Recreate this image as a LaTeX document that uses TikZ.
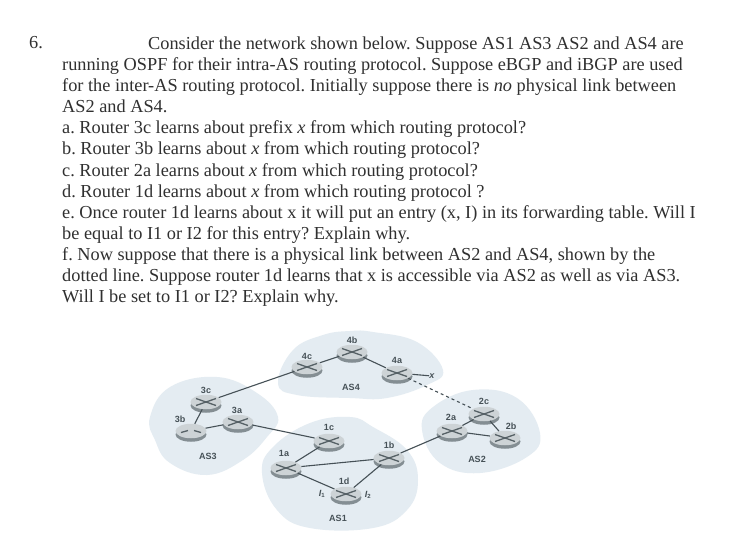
\documentclass[tikz,border=0pt]{standalone}
\usepackage{fontspec}
\setmainfont{Liberation Serif}
\newfontfamily\labelfont{Liberation Sans}
\usetikzlibrary{shapes.geometric, shadows, calc}
\definecolor{regionblue}{HTML}{E4ECF2}
\definecolor{routertop}{HTML}{CDD3D6}
\definecolor{routerside}{HTML}{848E93}
\definecolor{crossgrey}{HTML}{566166}
\definecolor{linkgrey}{HTML}{465157}
\definecolor{textgrey}{HTML}{303030}
\tikzset{
	router/.style={ellipse, minimum width=31pt, minimum height=14.5pt, inner sep=0pt, fill=routertop,
		copy shadow={shadow xshift=0pt, shadow yshift=-3.5pt, fill=routerside, draw=none}},
	crossed/.style={path picture={
		\draw[crossgrey, line width=1.3pt] ($(path picture bounding box.center)+(-10,-3.5)$) -- ($(path picture bounding box.center)+(10,3.5)$);
		\draw[crossgrey, line width=1.3pt] ($(path picture bounding box.center)+(-10,3.5)$) -- ($(path picture bounding box.center)+(10,-3.5)$);}},
	dashes/.style={path picture={
		\draw[crossgrey, line width=1.3pt] ($(path picture bounding box.center)+(-10,1.5)$) -- ($(path picture bounding box.center)+(-3,-0.5)$);
		\draw[crossgrey, line width=1.3pt] ($(path picture bounding box.center)+(3,-0.5)$) -- ($(path picture bounding box.center)+(10,1.5)$);}},
	rlabel/.style={font=\labelfont\bfseries\fontsize{9}{10}\selectfont, text=linkgrey, inner sep=0pt},
	link/.style={draw=linkgrey, line width=1.1pt}
}
\begin{document}
\begin{tikzpicture}[x=1pt, y=-1pt]
	\useasboundingbox[fill=white] (0,0) rectangle (734,539);
	% question text
	\node[anchor=base west, text=textgrey, inner sep=0pt, font=\fontsize{18.3}{20}\selectfont] (num) at (29,48) {6.};
	\node[anchor=north west, text=textgrey, inner sep=0pt, align=left, font=\frenchspacing\fontsize{18.3}{21.1}\selectfont] (question) at (62,36.5) {%
		\hspace*{86pt}Consider the network shown below. Suppose AS1 AS3 AS2 and AS4 are\\
		running OSPF for their intra-AS routing protocol. Suppose eBGP and iBGP are used\\
		for the inter-AS routing protocol. Initially suppose there is \textit{no} physical link between\\
		AS2 and AS4.\\
		a. Router 3c learns about prefix \textit{x} from which routing protocol?\\
		b. Router 3b learns about \textit{x} from which routing protocol?\\
		c. Router 2a learns about \textit{x} from which routing protocol?\\
		d. Router 1d learns about \textit{x} from which routing protocol ?\\
		e. Once router 1d learns about x it will put an entry (x, I) in its forwarding table. Will I\\
		be equal to I1 or I2 for this entry? Explain why.\\
		f. Now suppose that there is a physical link between AS2 and AS4, shown by the\\
		dotted line. Suppose router 1d learns that x is accessible via AS2 as well as via AS3.\\
		Will I be set to I1 or I2? Explain why.};
	% autonomous systems
	\fill[regionblue] plot[smooth cycle, tension=0.7] coordinates {(150,417) (170,387) (217,377) (257,393) (278,417) (267,437) (243,460) (207,475) (170,463) (155,440)};
	\fill[regionblue] plot[smooth cycle, tension=0.7] coordinates {(278,383) (293,350) (323,335) (350,331) (373,332) (417,342) (443,370) (427,385) (387,398) (350,398) (297,395)};
	\fill[regionblue] plot[smooth cycle, tension=0.7] coordinates {(350,417) (310,423) (273,447) (262,473) (277,510) (310,528) (373,528) (407,510) (418,480) (407,450) (373,427)};
	\fill[regionblue] plot[smooth cycle, tension=0.7] coordinates {(422,430) (433,407) (473,390) (517,398) (540,433) (527,457) (480,473) (440,463)};
	% routers
	\foreach \name/\x/\y/\lx/\ly/\kind in {3c/206/402/206/390/crossed, 3a/238/422/237/410/crossed, 3b/191/431/180/419/dashes,
		4c/307/367/307/356/crossed, 4b/352/352/352/340/crossed, 4a/397/373/397/360/crossed,
		1c/329/441/329/427/crossed, 1a/286/468/284/453/crossed, 1b/389/458/389/445/crossed, 1d/346/494/344/481/crossed,
		2c/484/414/484/401/crossed, 2a/452/431/451/417/crossed, 2b/505/438/511/426/crossed} {
		\node[router, \kind] (r\name) at (\x,\y) {};
		\node[rlabel] (l\name) at (\lx,\ly) {\name};
	}
	% region and interface labels
	\node[rlabel] (as3) at (208,456) {AS3};
	\node[rlabel] (as4) at (351,387) {AS4};
	\node[rlabel] (as1) at (338,518) {AS1};
	\node[rlabel] (as2) at (477,459) {AS2};
	\node[rlabel] (i1) at (322,494) {\textit{I}\textsubscript{1}};
	\node[rlabel] (i2) at (368,495) {\textit{I}\textsubscript{2}};
	\node[rlabel] (dest) at (432,376) {\textit{x}};
	% links
	\draw[link] (r3c) -- (r3b);
	\draw[link] (r3b) -- (r3a);
	\draw[link] (r3c) -- (r4c);
	\draw[link] (r3a) -- (r1c);
	\draw[link] (r4c) -- (r4b);
	\draw[link] (r4b) -- (r4a);
	\draw[link] (r4a) -- (dest);
	\draw[link, dashed] (r4a) -- (r2c);
	\draw[link] (r1c) -- (r1a);
	\draw[link] (r1a) -- (r1b);
	\draw[link] (r1a) -- (r1d);
	\draw[link] (r1d) -- (r1b);
	\draw[link] (r1b) -- (r2a);
	\draw[link] (r2a) -- (r2c);
	\draw[link] (r2a) -- (r2b);
	\draw[link] (r2c) -- (r2b);
\end{tikzpicture}
\end{document}
